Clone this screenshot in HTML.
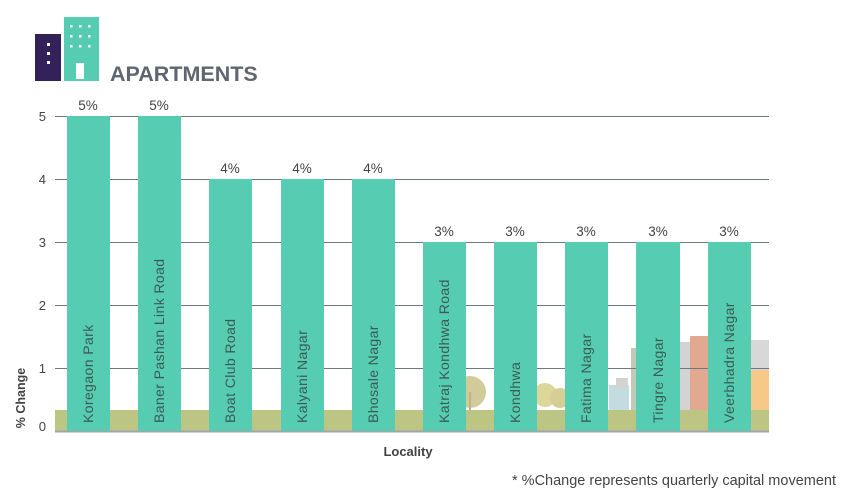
<!DOCTYPE html>
<html><head><meta charset="utf-8"><style>
body{margin:0;background:#fff;}
svg{display:block;font-family:"Liberation Sans",sans-serif;}
</style></head><body>
<svg width="855" height="492" viewBox="0 0 855 492">
<rect x="35" y="34" width="26" height="47" fill="#33215a"/>
<rect x="47" y="43" width="3" height="3" fill="#fff"/><rect x="47" y="52" width="3" height="3" fill="#fff"/><rect x="47" y="61" width="3" height="3" fill="#fff"/>
<rect x="64" y="17" width="35" height="64" fill="#56cdb2"/>
<g fill="#fff"><rect x="70" y="25" width="2.5" height="2.5"/><rect x="79" y="25" width="2.5" height="2.5"/><rect x="88" y="25" width="2.5" height="2.5"/>
<rect x="70" y="35" width="2.5" height="2.5"/><rect x="79" y="35" width="2.5" height="2.5"/><rect x="88" y="35" width="2.5" height="2.5"/>
<rect x="70" y="45" width="2.5" height="2.5"/><rect x="79" y="45" width="2.5" height="2.5"/><rect x="88" y="45" width="2.5" height="2.5"/>
<rect x="76" y="63" width="8" height="16"/></g>
<text x="110" y="81" font-size="21.5" font-weight="bold" fill="#5f6670">APARTMENTS</text>
<g opacity="0.9">
<circle cx="470" cy="392" r="16" fill="#cdc58f"/><rect x="469" y="392" width="2" height="20" fill="#b8a88c"/>
<circle cx="545" cy="395" r="12" fill="#d9d28e"/><circle cx="560" cy="398" r="10" fill="#d2c98a"/>
<rect x="609" y="385" width="20" height="26" fill="#bcd9dc"/><rect x="616" y="378" width="12" height="10" fill="#cfcfcf"/>
<rect x="631" y="348" width="6" height="63" fill="#b7c6b2"/>
<rect x="680" y="342" width="10" height="69" fill="#cfcfcf"/>
<rect x="690" y="336" width="18" height="75" fill="#dda085"/>
<rect x="751" y="340" width="18" height="71" fill="#d4d4d4"/>
<rect x="751" y="370" width="18" height="41" fill="#f6c47c"/>
</g>
<rect x="55" y="410" width="714" height="21" fill="#bdc585"/>
<g stroke="#6f7780" stroke-width="1">
<line x1="55" y1="116.5" x2="769" y2="116.5"/><line x1="55" y1="179.5" x2="769" y2="179.5"/>
<line x1="55" y1="242.5" x2="769" y2="242.5"/><line x1="55" y1="305.5" x2="769" y2="305.5"/>
<line x1="55" y1="368.5" x2="769" y2="368.5"/></g>
<line x1="55" y1="431.5" x2="769" y2="431.5" stroke="#a0a5aa" stroke-width="2"/>
<g font-size="13" fill="#444" text-anchor="end">
<text x="46" y="121">5</text><text x="46" y="184">4</text><text x="46" y="247">3</text><text x="46" y="310">2</text><text x="46" y="373">1</text><text x="46" y="431">0</text></g>
<g fill="#56cdb2">
<rect x="67" y="116" width="43" height="315"/><rect x="138" y="116" width="43" height="315"/>
<rect x="209" y="179" width="43" height="252"/><rect x="281" y="179" width="43" height="252"/>
<rect x="352" y="179" width="43" height="252"/><rect x="423" y="242" width="43" height="189"/>
<rect x="494" y="242" width="43" height="189"/><rect x="565" y="242" width="43" height="189"/>
<rect x="636" y="242" width="44" height="189"/><rect x="708" y="242" width="43" height="189"/></g>
<g font-size="13.5" fill="#444" text-anchor="middle">
<text x="88" y="110">5%</text><text x="159" y="110">5%</text><text x="230" y="173">4%</text><text x="302" y="173">4%</text><text x="373" y="173">4%</text>
<text x="444" y="236">3%</text><text x="515" y="236">3%</text><text x="586" y="236">3%</text><text x="658" y="236">3%</text><text x="729" y="236">3%</text></g>
<g font-size="14" letter-spacing="0.4" fill="#3b5a5a">
<text transform="translate(93,423) rotate(-90)">Koregaon Park</text>
<text transform="translate(164,423) rotate(-90)">Baner Pashan Link Road</text>
<text transform="translate(235,423) rotate(-90)">Boat Club Road</text>
<text transform="translate(307,423) rotate(-90)">Kalyani Nagar</text>
<text transform="translate(378,423) rotate(-90)">Bhosale Nagar</text>
<text transform="translate(449,423) rotate(-90)">Katraj Kondhwa Road</text>
<text transform="translate(520,423) rotate(-90)">Kondhwa</text>
<text transform="translate(591,423) rotate(-90)">Fatima Nagar</text>
<text transform="translate(663,423) rotate(-90)">Tingre Nagar</text>
<text transform="translate(734,423) rotate(-90)">Veerbhadra Nagar</text></g>
<text x="408" y="456" font-size="13" font-weight="bold" fill="#444" text-anchor="middle">Locality</text>
<text transform="translate(25,398) rotate(-90)" font-size="12.5" font-weight="bold" fill="#444" text-anchor="middle">% Change</text>
<text x="836" y="485" font-size="14.5" fill="#444" text-anchor="end">* %Change represents quarterly capital movement</text>
</svg>
</body></html>
